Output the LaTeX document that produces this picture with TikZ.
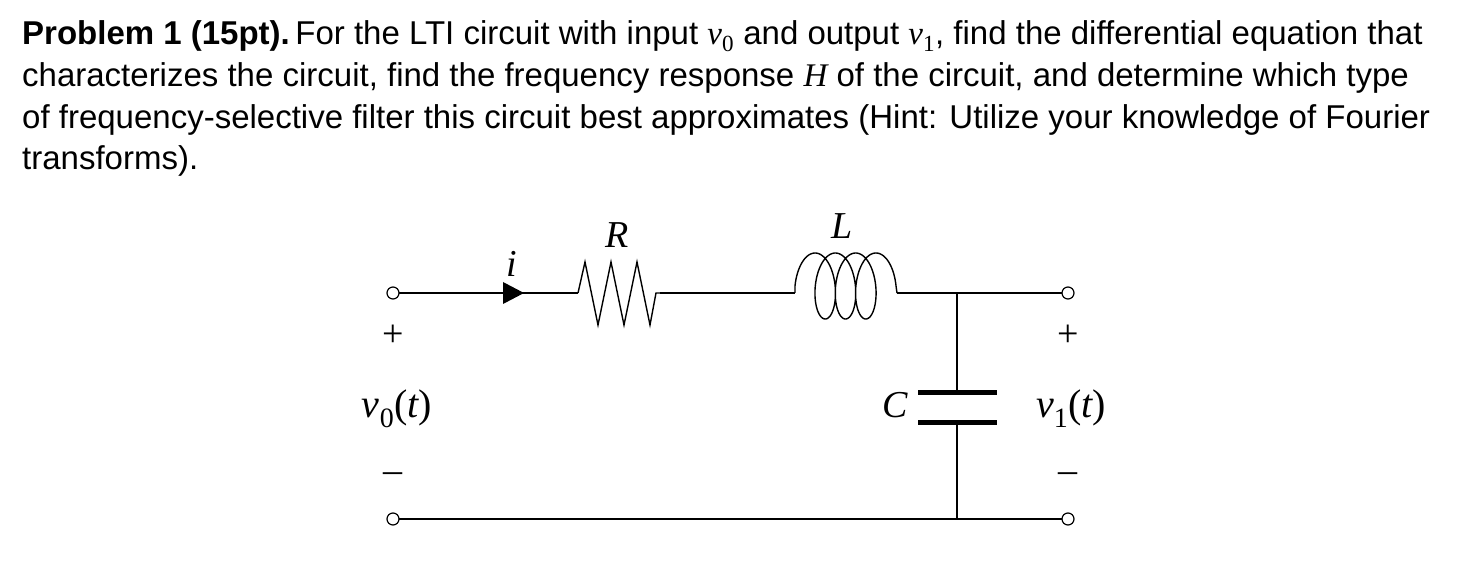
\documentclass[tikz,border=0pt]{standalone}
\usepackage{fontspec}
\setmainfont{Liberation Sans}
\newfontfamily\tms{Liberation Serif}
\newcommand{\mv}[1]{{\tms\itshape v}\textsubscript{\tms #1}}
\begin{document}
\begin{tikzpicture}[x=1pt,y=-1pt,
  wire/.style={line width=1.4pt},
  term/.style={circle,draw,line width=1.2pt,fill=white,inner sep=0pt,minimum size=12pt},
  txt/.style={anchor=base west,inner sep=0pt,font=\fontsize{33}{40}\selectfont},
  lab/.style={inner sep=0pt,font=\fontsize{38}{44}\selectfont\tms\itshape},
  vlab/.style={inner sep=0pt,font=\fontsize{40}{46}\selectfont\tms\itshape},
  sgn/.style={inner sep=0pt,font=\fontsize{38}{44}\selectfont\tms}]
\useasboundingbox (0,0) rectangle (1460,564);
\node[txt] (l1) at (22,45) {\textbf{Problem 1 (15pt).}\,For the LTI circuit with input \mv{0} and output \mv{1}, find the differential equation that};
\node[txt] (l2) at (22,87) {characterizes the circuit, find the frequency response {\tms\itshape H} of the circuit, and determine which type};
\node[txt] (l3) at (22,129) {of frequency-selective filter this circuit best approximates (Hint: Utilize your knowledge of Fourier};
\node[txt] (l4) at (22,170) {transforms).};
\coordinate (r0) at (578,293);
\coordinate (r1) at (660,293);
\coordinate (i0) at (795,293);
\coordinate (i1) at (897,293);
\coordinate (j) at (957,293);
\coordinate (jb) at (957,519);
\coordinate (c1) at (957,392);
\coordinate (c2) at (957,422);
\draw[wire] (393,293) -- (r0);
\draw[wire] (r0) -- (585,262) -- (598,325) -- (611,262) -- (624,325) -- (637,262) -- (650,325) -- (656,293) -- (r1);
\draw[wire] (r1) -- (i0);
\draw[wire] (i0) -- (795,286)
  plot[domain=90:1350,samples=300,smooth] ({795+15+3.23*(\x-90)*pi/180-15*sin(\x)},{286+33*cos(\x)})
  -- (i1);
\draw[wire] (i1) -- (j) -- (1068,293);
\draw[wire] (j) -- (c1);
\draw[line width=5pt] (918,392) -- (997,392);
\draw[line width=5pt] (918,422) -- (997,422);
\draw[wire] (c2) -- (jb);
\draw[wire] (393,519) -- (1068,519);
\fill (503,282) -- (524,293) -- (503,304) -- cycle;
\node[term] (a) at (393,293) {};
\node[term] (b) at (393,519) {};
\node[term] (c) at (1068,293) {};
\node[term] (d) at (1068,519) {};
\node[lab] (R) at (617,235) {R};
\node[lab] (L) at (842,226) {L};
\node[lab] (ii) at (512,264) {i};
\node[lab] (C) at (895,405) {C};
\node[sgn] (p1) at (393,336) {+};
\node[sgn] (m1) at (393,478) {\textendash};
\node[sgn] (p2) at (1068,336) {+};
\node[sgn] (m2) at (1068,478) {\textendash};
\node[vlab] (v0) at (397,409) {v\textsubscript{\upshape 0}\upshape(\itshape t\upshape)};
\node[vlab] (v1) at (1071,409) {v\textsubscript{\upshape 1}\upshape(\itshape t\upshape)};
\end{tikzpicture}
\end{document}
